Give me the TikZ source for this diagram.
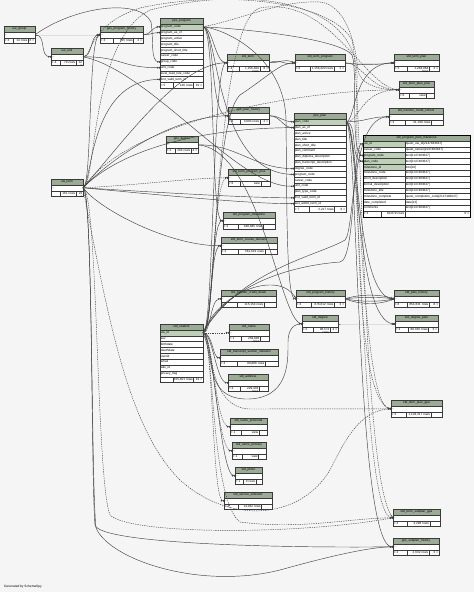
\documentclass[tikz,border=0pt]{standalone}
\usepackage{fontspec}
\setmainfont{Liberation Sans}
\usetikzlibrary{arrows.meta}
\definecolor{bgc}{HTML}{F5F5F5}
\definecolor{hdrc}{HTML}{9BAB96}
\definecolor{keyc}{HTML}{BED1B8}
\definecolor{edgec}{HTML}{444444}
\definecolor{tbord}{HTML}{3A3A3A}
\newcommand\RH{5.85}
\tikzset{
 cell/.style={draw=tbord, line width=0.3pt, inner xsep=0.8pt, inner ysep=0pt, outer sep=0pt,
   minimum height=5.85pt, font=\fontsize{3.1}{3.5}\selectfont, text height=2.3pt, text depth=0.6pt, anchor=north west},
 hdr/.style={cell, fill=hdrc, align=center},
 rowc/.style={cell, fill=white, align=left},
 keyr/.style={cell, fill=keyc, align=left},
 ftl/.style={cell, fill=white, align=left},
 ftm/.style={cell, fill=white, align=right},
 ftr/.style={cell, fill=white, align=right},
 rel/.style={draw=edgec, line width=0.45pt, -{Circle[open,length=1.4pt,width=1.4pt]Latex[reversed,length=1.8pt,width=2.4pt]}},
 imp/.style={rel, dash pattern=on 1.3pt off 1pt},
}
% footer: name x y w left mid right
\newcommand\ftrow[7]{%
 \pgfmathsetmacro\wa{0.3*#4}\pgfmathsetmacro\wb{0.48*#4}\pgfmathsetmacro\wc{#4-\wa-\wb}%
 \pgfmathsetmacro\ta{\wa-1.6}\pgfmathsetmacro\tb{\wb-1.6}\pgfmathsetmacro\tc{\wc-1.6}%
 \node[ftl,text width=\ta pt] (#1-fa) at (#2,#3) {#5};
 \node[ftm,text width=\tb pt] (#1-fb) at (#1-fa.north east) {#6};
 \node[ftr,text width=\tc pt] (#1-fc) at (#1-fb.north east) {#7};
}
% small table: name x y w title left mid right
\newcommand\stbl[8]{%
 \pgfmathsetmacro\tw{#4-1.6}%
 \node[hdr,text width=\tw pt] (#1) at (#2,#3) {#5};
 \node[rowc,text width=\tw pt] (#1-r) at (#2,#3+\RH) {...};
 \ftrow{#1}{#2}{#3+2*\RH}{#4}{#6}{#7}{#8}
}
\newcommand\btbl[5]{%
 \pgfmathsetmacro\tw{#4-1.6}%
 \node[hdr,text width=\tw pt] (#1) at (#2,#3) {#5};
}
\AtBeginDocument{\catcode`\_=12\relax}
\begin{document}
\begin{tikzpicture}[x=1pt,y=-1pt]
\fill[bgc] (0,0) rectangle (474,592);
\useasboundingbox (0,0) rectangle (474,592);

% ---------- tables ----------
\stbl{ug}{4}{26}{31}{uw_group}{< 3}{14 rows}{8 >}
\stbl{uu}{51}{48}{32}{uw_unit}{< 4}{70 rows}{12 >}
\stbl{pph}{100}{26}{43}{pps_program_history}{< 3}{305 rows}{2 >}
\stbl{uwt}{51}{179}{32}{uw_term}{}{161 rows}{23 >}
\stbl{st}{227}{54}{42}{std_term}{< 4}{1,156,404 rows}{8 >}
\stbl{stp}{295}{54}{50}{std_term_program}{< 6}{1,156,420 rows}{2 >}
\stbl{stpl}{394}{54}{45}{std_term_plan}{< 3}{1,284,964 rows}{3 >}
\stbl{stpp}{399}{81}{35}{std_term_plan_plus}{< 6}{view}{}
\stbl{stcs}{389}{108}{54}{std_transfer_credit_school}{< 3}{21,199 rows}{}
\stbl{pplh}{228}{107}{41}{pps_plan_history}{< 3}{3,693 rows}{2 >}
\stbl{pd}{166}{136}{32}{pps_degree}{< 2}{204 rows}{4 >}
\stbl{stpgp}{228}{169}{42}{std_term_program_plus}{< 6}{view}{}
\stbl{spm}{223}{212}{52}{std_program_milestone}{< 2}{448,845 rows}{}
\stbl{stcd}{221}{237}{56}{std_term_course_demand}{< 2}{561,619 rows}{}
\stbl{tcd}{221}{290}{55}{std_transfer_credit_detail}{< 2}{115,154 rows}{}
\stbl{sph}{296}{290}{49}{std_program_history}{< 3}{676,612 rows}{3 >}
\stbl{sd}{302}{315}{36}{std_degree}{< 2}{98,572 rows}{4 >}
\stbl{splh}{394}{290}{45}{std_plan_history}{< 8}{854,831 rows}{8 >}
\stbl{sdp}{395}{315}{43}{std_degree_plan}{< 3}{88,330 rows}{3 >}
\stbl{sn}{229}{324}{40}{std_name}{< 1}{258,848 rows}{}
\stbl{sti}{220}{349}{58}{std_transcript_section_indicator}{< 3}{89,886 rows}{}
\stbl{sa}{228}{374}{40}{std_address}{< 3}{229,433 rows}{}
\stbl{stpg}{391}{400}{51}{std_term_plan_gpa}{< 3}{1,104,317 rows}{}
\stbl{snpf}{230}{418}{37}{std_name_preferred}{< 1}{view}{}
\stbl{snpr}{232}{442}{34}{std_name_primary}{< 1}{view}{}
\stbl{spho}{235}{467}{27}{std_photo}{< 1}{0 rows}{}
\stbl{ssi}{224}{492}{48}{std_service_indicator}{< 3}{14,032 rows}{}
\stbl{stsg}{393}{509}{47}{std_term_subplan_gpa}{< 3}{3,298 rows}{}
\stbl{psh}{393}{538}{46}{pps_subplan_history}{< 3}{2,632 rows}{3 >}

% pps_program
\btbl{pp}{160}{18}{43}{pps_program}
\foreach \rn/\rs [count=\i] in {program_code/keyr,program_as_of/rowc,program_active/rowc,program_title/rowc,program_short_title/rowc,career_code/rowc,group_code/rowc,unit_code/rowc,level_load_rule_code/rowc,first_valid_term_id/rowc}
  \node[\rs,text width=\tw pt] (pp-\i) at (160,18+\i*\RH) {\rn};
\ftrow{pp}{160}{18+11*\RH}{43}{< 5}{146 rows}{10 >}

% pps_plan
\btbl{ppl}{294}{113}{52}{pps_plan}
\foreach \rn/\rs [count=\i] in {plan_code/keyr,plan_as_of/rowc,plan_active/rowc,plan_title/rowc,plan_short_title/rowc,plan_comment/rowc,plan_diploma_description/rowc,plan_transcript_description/rowc,degree_code/rowc,program_code/rowc,career_code/rowc,unit_code/rowc,plan_type_code/rowc,first_valid_term_id/rowc,last_admit_term_id/rowc}
  \node[\rs,text width=\tw pt] (ppl-\i) at (294,113+\i*\RH) {\rn};
\ftrow{ppl}{294}{113+16*\RH}{52}{< 7}{2,217 rows}{6 >}

% std_student
\btbl{ss}{160}{324}{43}{std_student}
\foreach \rn/\rs [count=\i] in {uw_id/keyr,sex/rowc,birthdate/rowc,deathdate/rowc,userid/rowc,email/rowc,wiki_id/rowc,privacy_flag/rowc}
  \node[\rs,text width=\tw pt] (ss-\i) at (160,324+\i*\RH) {\rn};
\ftrow{ss}{160}{324+9*\RH}{43}{}{105,401 rows}{19 >}

% std_program_plan_milestone
\node[hdr,text width=105.4pt] (sppm) at (363,135) {std_program_plan_milestone};
\foreach \ra/\rb/\rs [count=\i] in {uw_id/quest_uw_id[2147483647]/keyr,career_code/quest_career[2147483647]/rowc,program_code/text[2147483647]/keyr,plan_code/text[2147483647]/keyr,milestone_id/int4[10]/keyr,milestone_code/text[2147483647]/rowc,short_description/text[2147483647]/rowc,formal_description/text[2147483647]/rowc,milestone_title/text[2147483647]/rowc,milestone_complete/quest_completion_code[2147483647]/rowc,date_completed/date[13]/rowc,comments/text[2147483647]/rowc}
{
  \node[\rs,text width=40.4pt] (sppm-a\i) at (363,135+\i*\RH) {\ra};
  \node[rowc,text width=63.4pt] (sppm-b\i) at (405,135+\i*\RH) {\rb};
}
\node[ftl,text width=16.4pt] (sppm-fa) at (363,135+13*\RH) {< 3};
\node[ftm,text width=22.4pt] (sppm-fb) at (sppm-fa.north east) {84,879 rows};
\node[ftr,text width=63.4pt] (sppm-fc) at (sppm-fb.north east) {0 >};
\draw[line width=0.7pt,draw=black] (sppm.north west) rectangle (sppm-fc.south east);

\node[anchor=west,font=\fontsize{3.2}{3.6}\selectfont,inner sep=0pt] (gen) at (4,587) {Generated by SchemaSpy};

% ---------- connectors ----------
% uw_group
\draw[rel] (ug-r.east) .. controls +(25,0) and +(-25,0) .. (pph-r.west);
\draw[rel] (ug-r.east) .. controls +(12,0) and +(-12,0) .. (uu-r.west);
\draw[rel] (ug-r.east) .. controls (75,6) and (140,-2) .. (151,22) .. controls (154,40) and (150,62) .. (pp-7.west);
% pps_program_history
\draw[rel] (pph-r.east) .. controls +(8,0) and +(-8,0) .. (pp-1.west);
\draw[rel] (pph-r.east) .. controls +(8,0) and +(-8,0) .. (pp-2.west);
% uw_unit
\draw[rel] (uu-r.east) .. controls +(10,0) and +(-10,0) .. (pph-r.west);
\draw[rel] (uu-r.east) .. controls +(40,0) and +(-40,0) .. (pp-8.west);
\draw[rel] (uu-r.east) .. controls (150,70) and (240,190) .. (ppl-12.west);
\draw[imp] (uu-r.east) .. controls (92,57) and (88,25) .. (140,8) .. controls (220,-10) and (330,0) .. (352,40) .. controls (362,80) and (362,480) .. (stsg-r.west);
% uw_term
\draw[rel] (uwt-r.east) .. controls (92,188) and (88,40) .. (pph-r.west);
\draw[rel] (uwt-r.east) .. controls (92,188) and (88,80) .. (pp-10.west);
\draw[rel] (uwt-r.east) .. controls (120,150) and (180,116) .. (pplh-r.west);
\draw[rel] (uwt-r.east) .. controls (120,150) and (200,128) .. (ppl-2.west);
\draw[rel] (uwt-r.east) .. controls (125,140) and (180,63) .. (st-r.west);
\draw[imp] (uwt-r.east) .. controls (130,120) and (300,90) .. (stpp-r.west);
\draw[imp] (uwt-r.east) .. controls (140,185) and (190,178) .. (stpgp-r.west);
\draw[rel] (uwt-r.east) .. controls (150,192) and (250,198) .. (ppl-14.west);
\draw[rel] (uwt-r.east) .. controls (150,194) and (250,204) .. (ppl-15.west);
\draw[rel] (uwt-r.east) .. controls (100,210) and (170,246) .. (stcd-r.west);
\draw[rel] (uwt-r.east) .. controls (93,188) and (91,480) .. (95,525) .. controls (100,545) and (300,548) .. (psh-r.west);
\draw[rel] (uwt-r.east) .. controls (93,188) and (91,480) .. (96,528) .. controls (110,560) and (200,590) .. (280,570) .. controls (330,556) and (370,547) .. (psh-r.west);
\draw[imp] (uwt-r.east) .. controls (98,190) and (96,480) .. (110,515) .. controls (130,535) and (300,535) .. (stsg-r.west);
\draw[imp] (uwt-r.east) .. controls (110,330) and (130,430) .. (180,480) .. controls (230,525) and (300,520) .. (330,470) .. controls (345,440) and (360,410) .. (stpg-r.west);
\draw[imp] (uwt-r.east) .. controls (96,188) and (90,40) .. (150,10) .. controls (250,-15) and (360,0) .. (357,80) .. controls (356,250) and (360,400) .. (stpg-r.west);
% pps_program
\draw[rel] (pp-1.east) .. controls +(10,0) and +(-12,0) .. (st-r.west);
\draw[rel] (pp-1.east) .. controls (215,27) and (210,116) .. (pplh-r.west);
\draw[rel] (pp-1.east) .. controls (218,27) and (215,174) .. (ppl-10.west);
\draw[rel] (pp-1.east) .. controls (216,27) and (210,221) .. (spm-r.west);
\draw[rel] (pp-1.east) .. controls (230,30) and (285,60) .. (286,120) .. controls (287,200) and (286,299) .. (sph-r.west);
\draw[rel] (pp-1.east) .. controls (260,30) and (340,40) .. (352,55) .. controls (358,70) and (350,155) .. (sppm-a3.west);
\draw[imp] (pp-1.east) .. controls (240,20) and (280,0) .. (320,2) .. controls (345,5) and (355,40) .. (358,70) .. controls (360,85) and (380,90) .. (stpp-r.west);
% pps_plan_history
\draw[rel] (pplh-r.east) .. controls +(12,0) and +(-12,0) .. (ppl-1.west);
\draw[rel] (pplh-r.east) .. controls +(12,0) and +(-12,0) .. (ppl-2.west);
% pps_degree
\draw[rel] (pd-r.east) .. controls +(40,0) and +(-40,0) .. (ppl-9.west);
\draw[rel] (pd-r.east) .. controls (260,150) and (280,320) .. (sd-r.west);
% std_term / std_term_program
\draw[rel] (st-r.east) .. controls (282,63) and (282,58) .. (stp-r.west);
\draw[rel] (st-r.east) .. controls (280,58) and (285,66) .. (stp-r.west);
\draw[rel] (stp-r.east) .. controls +(20,0) and +(-20,0) .. (stpl-r.west);
\draw[rel] (stp-r.east) .. controls +(20,3) and +(-20,2) .. (stpl-r.west);
\draw[imp] (stp-r.east) .. controls (362,63) and (370,90) .. (stpp-r.west);
% pps_plan
\draw[rel] (ppl-1.east) .. controls (356,122) and (352,63) .. (stpl-r.west);
\draw[imp] (ppl-1.east) .. controls (360,122) and (360,90) .. (stpp-r.west);
\draw[rel] (ppl-1.east) .. controls +(20,0) and +(-20,0) .. (stcs-r.west);
\draw[rel] (ppl-1.east) .. controls (358,122) and (350,161) .. (sppm-a4.west);
\draw[rel] (ppl-1.east) .. controls (358,122) and (356,299) .. (splh-r.west);
\draw[rel] (ppl-1.east) .. controls (358,122) and (355,324) .. (sdp-r.west);
\draw[imp] (ppl-1.east) .. controls (362,122) and (360,409) .. (stpg-r.west);
\draw[imp] (ppl-1.east) .. controls (362,122) and (360,518) .. (stsg-r.west);
\draw[rel] (ppl-1.east) .. controls (358,122) and (356,547) .. (psh-r.west);
% std_program_history / std_degree
\draw[rel] (sph-r.east) .. controls (360,294) and (380,294) .. (splh-r.west);
\draw[rel] (sph-r.east) .. controls (360,297) and (380,297) .. (splh-r.west);
\draw[rel] (sph-r.east) .. controls (360,302) and (380,302) .. (splh-r.west);
\draw[rel] (sph-r.east) .. controls (360,305) and (380,305) .. (splh-r.west);
\draw[rel] (sd-r.east) .. controls +(20,0) and +(-20,0) .. (sdp-r.west);
% std_student
\draw[rel] (ss-1.east) .. controls (214,333) and (212,63) .. (st-r.west);
\draw[rel] (ss-1.east) .. controls (215,333) and (213,120) .. (240,95) .. controls (270,75) and (280,63) .. (stp-r.west);
\draw[rel] (ss-1.east) .. controls (213,333) and (211,221) .. (spm-r.west);
\draw[rel] (ss-1.east) .. controls (212,333) and (210,246) .. (stcd-r.west);
\draw[rel] (ss-1.east) .. controls (211,333) and (210,299) .. (tcd-r.west);
\draw[imp] (ss-1.east) .. controls (214,333) and (212,178) .. (stpgp-r.west);
\draw[rel] (ss-1.east) .. controls (220,290) and (280,270) .. (sph-r.west);
\draw[rel] (ss-1.east) .. controls (230,280) and (300,265) .. (340,262) .. controls (356,260) and (352,144) .. (sppm-a1.west);
\draw[rel] (ss-1.east) .. controls (240,270) and (320,255) .. (345,240) .. controls (355,230) and (350,117) .. (stcs-r.west);
\draw[rel] (ss-1.east) .. controls (215,360) and (205,397) .. (245,399) .. controls (290,400) and (288,360) .. (288,342) .. controls (288,328) and (295,324) .. (sd-r.west);
\draw[imp] (ss-1.east) -- (sn-r.west);
\draw[rel] (ss-1.east) .. controls +(10,0) and +(-8,0) .. (sti-r.west);
\draw[rel] (ss-1.east) .. controls +(10,0) and +(-12,0) .. (sa-r.west);
\draw[imp] (ss-1.east) .. controls +(10,0) and +(-15,0) .. (snpf-r.west);
\draw[imp] (ss-1.east) .. controls +(10,0) and +(-15,0) .. (snpr-r.west);
\draw[rel] (ss-1.east) .. controls +(10,0) and +(-15,0) .. (spho-r.west);
\draw[imp] (ss-1.east) .. controls +(10,0) and +(-12,0) .. (ssi-r.west);
\draw[imp] (ss-1.east) .. controls (213,333) and (205,408) .. (250,409) -- (stpg-r.west);
\draw[imp] (ss-1.east) .. controls (214,333) and (210,500) .. (240,522) .. controls (300,530) and (350,518) .. (stsg-r.west);
\draw[imp] (ss-1.east) .. controls (216,333) and (215,20) .. (260,8) .. controls (330,-5) and (365,88) .. (stpp-r.west);
\end{tikzpicture}
\end{document}
